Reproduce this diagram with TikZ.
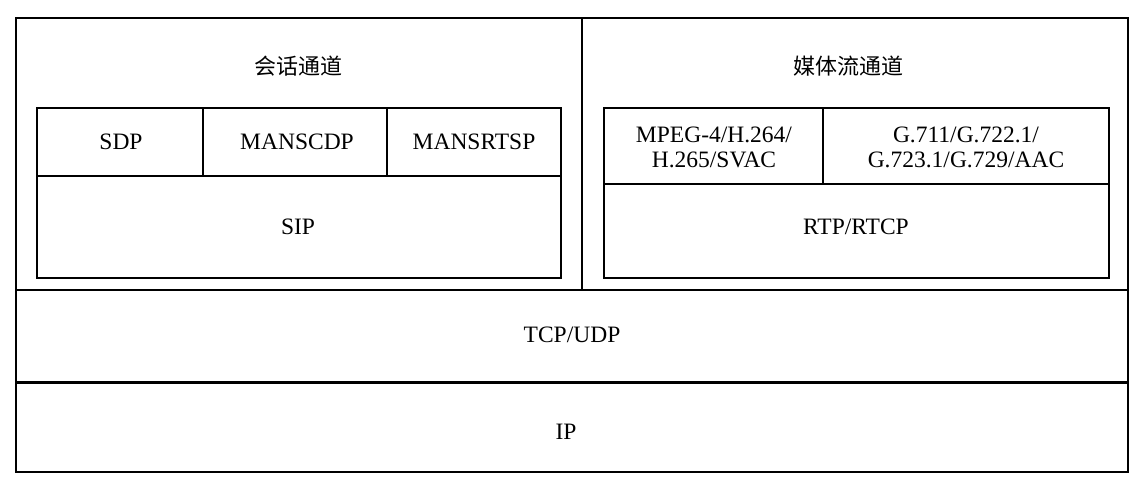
\documentclass[tikz,border=0pt]{standalone}
\usepackage{fontspec}
\setmainfont{Liberation Serif}
\newfontfamily\cjk{Noto Sans CJK SC}
\begin{document}
\begin{tikzpicture}[x=1pt,y=-1pt,line width=2pt,
  lbl/.style={font=\fontsize{23.5}{25}\selectfont,align=center,inner sep=0pt},
  ttl/.style={font=\cjk\fontsize{22}{25}\selectfont,inner sep=0pt}]
\useasboundingbox (0,0) rectangle (1144,494);
\fill[white] (0,0) rectangle (1144,494);
\draw (16,18) rectangle (1128,472);
\draw (582,18) -- (582,290);
\draw (16,290) -- (1128,290);
\draw[line width=3pt] (16,383) -- (1128,383);
% left
\draw (37,108) rectangle (561,278);
\draw (37,176) -- (561,176);
\draw (203,108) -- (203,176);
\draw (387,108) -- (387,176);
% right
\draw (604,108) rectangle (1109,278);
\draw (604,184) -- (1109,184);
\draw (823,108) -- (823,184);
\node[ttl] (t1) at (298,66) {会话通道};
\node[ttl] (t2) at (848,66) {媒体流通道};
\node[lbl] (sdp) at (121,142) {SDP};
\node[lbl] (mc) at (297,142) {MANSCDP};
\node[lbl] (mr) at (474,142) {MANSRTSP};
\node[lbl] (sip) at (298,227) {SIP};
\node[lbl] (v) at (714,147) {MPEG-4/H.264/\\H.265/SVAC};
\node[lbl] (a) at (966,147) {G.711/G.722.1/\\G.723.1/G.729/AAC};
\node[lbl] (rtp) at (856,227) {RTP/RTCP};
\node[lbl] (tcp) at (572,335) {TCP/UDP};
\node[lbl] (ip) at (566,432) {IP};
\end{tikzpicture}
\end{document}
